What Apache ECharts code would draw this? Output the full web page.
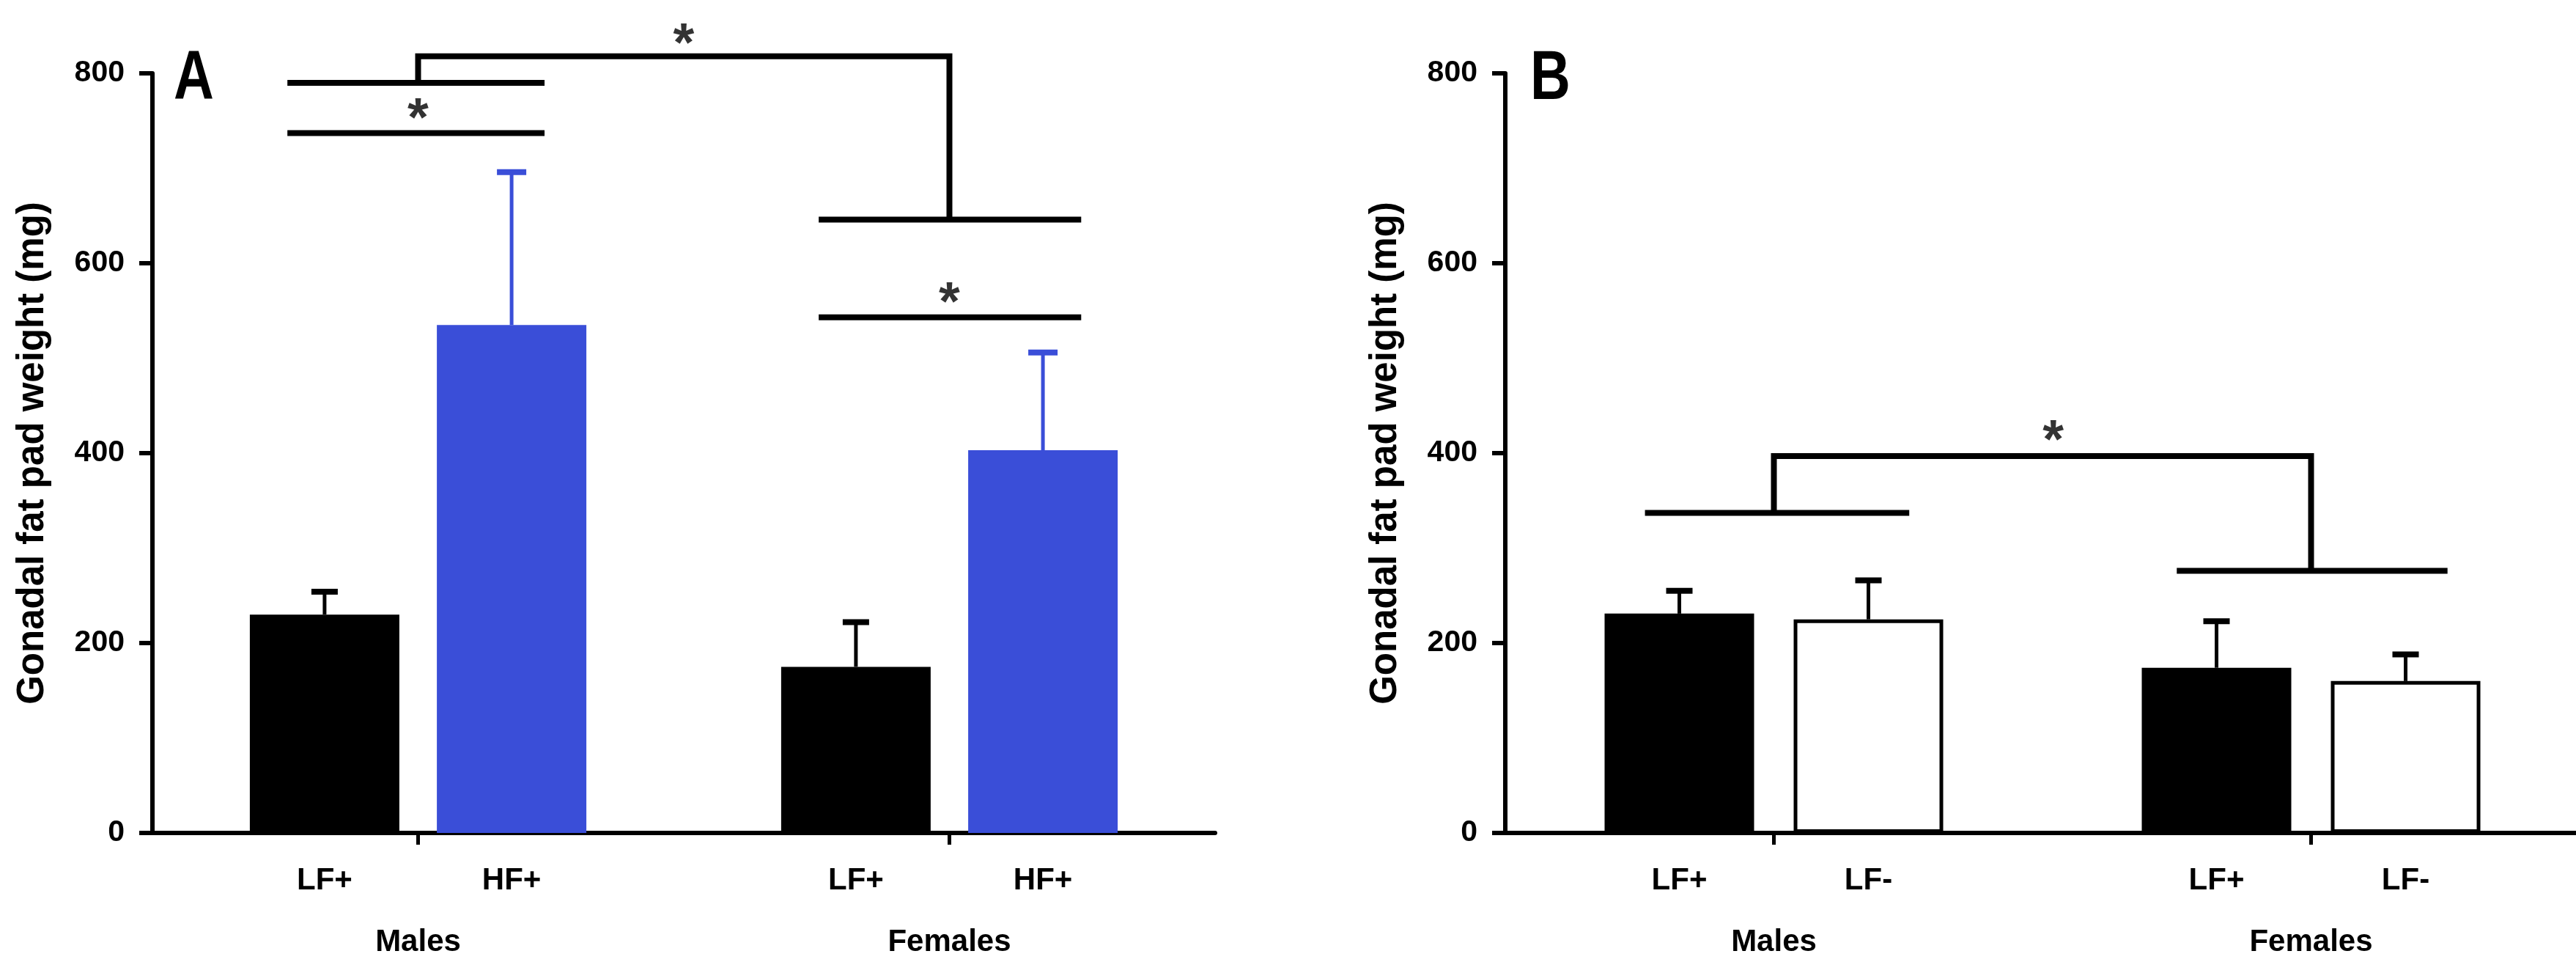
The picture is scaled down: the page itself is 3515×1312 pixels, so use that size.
<!DOCTYPE html>
<html>
<head>
<meta charset="utf-8">
<script src="https://cdn.jsdelivr.net/npm/echarts@6/dist/echarts.min.js"></script>
<style>
html, body { margin: 0; padding: 0; background: #fff; }
#main { width: 3515px; height: 1312px; }
</style>
</head>
<body>
<div id="main"></div>
<script>
var yTicks = [0, 200, 400, 600, 800];
var groups = ['Males', 'Females'];
var groupPos = [25, 75];
var barPos = [16.2, 33.8, 66.2, 83.8];

// panel A
var labelsA = ['LF+', 'HF+', 'LF+', 'HF+'];
var meanA = [230, 535, 175, 403];
var semA = [24, 161, 47, 103];
var fillA = ['#000000', '#3A4ED8', '#000000', '#3A4ED8'];

// panel B
var labelsB = ['LF+', 'LF-', 'LF+', 'LF-'];
var meanB = [231, 225, 174, 160];
var semB = [24, 41, 49, 28];
var fillB = ['#000000', '#ffffff', '#000000', '#ffffff'];

// significance brackets (x in axis units, y in mg)
var bracketsA = [
    [[12.7, 737], [36.9, 737]],
    [[12.7, 790], [36.9, 790]],
    [[25, 790], [25, 818], [75, 818], [75, 646]],
    [[62.7, 646], [87.4, 646]],
    [[62.7, 543], [87.4, 543]]
];
var starsA = [[25, 761], [50, 840], [75, 567]];
var bracketsB = [
    [[13.0, 337], [37.6, 337]],
    [[25, 337], [25, 397], [75, 397], [75, 276]],
    [[62.5, 276], [87.7, 276]]
];
var starsB = [[51, 422]];

var font = "'Liberation Sans', Arial, sans-serif";

function nearestLabel(labels, v) {
    var best = 0;
    for (var i = 1; i < barPos.length; i++) {
        if (Math.abs(barPos[i] - v) < Math.abs(barPos[best] - v)) best = i;
    }
    return labels[best];
}

function mainX(gi, labels) {
    return {
        type: 'value', gridIndex: gi, min: 0, max: 100, position: 'bottom',
        splitLine: { show: false },
        axisLine: { show: true, lineStyle: { color: '#000', width: 6 } },
        axisTick: { show: true, customValues: groupPos, length: 16, lineStyle: { color: '#000', width: 5 } },
        axisLabel: {
            show: true, customValues: barPos, margin: 44,
            fontFamily: font, fontWeight: 'bold', fontSize: 42, color: '#000',
            formatter: function(v) { return nearestLabel(labels, v); }
        }
    };
}

function groupX(gi) {
    return {
        type: 'value', gridIndex: gi, min: 0, max: 100, position: 'bottom', offset: 0,
        splitLine: { show: false },
        axisLine: { show: false },
        axisTick: { show: false },
        axisLabel: {
            show: true, customValues: groupPos, margin: 128,
            fontFamily: font, fontWeight: 'bold', fontSize: 42, color: '#000',
            formatter: function(v) { return v < 50 ? groups[0] : groups[1]; }
        }
    };
}

function yAx(gi) {
    return {
        type: 'value', gridIndex: gi, min: 0, max: 800, interval: 200,
        name: 'Gonadal fat pad weight (mg)', nameLocation: 'middle', nameGap: 138,
        nameTextStyle: { fontFamily: font, fontWeight: 'bold', fontSize: 51, color: '#000' },
        splitLine: { show: false },
        axisLine: { show: true, lineStyle: { color: '#000', width: 6 } },
        axisTick: { show: true, length: 18, lineStyle: { color: '#000', width: 6 } },
        axisLabel: { margin: 38, fontFamily: font, fontWeight: 'bold', fontSize: 41, color: '#000' }
    };
}

function barSeries(gi, means, fills) {
    return {
        type: 'bar', xAxisIndex: gi * 2, yAxisIndex: gi, barWidth: 204,
        animation: false, z: 2,
        data: means.map(function(m, i) {
            return {
                value: [barPos[i], m],
                itemStyle: {
                    color: fills[i],
                    borderColor: '#000',
                    borderWidth: fills[i] === '#ffffff' ? 5 : 0
                }
            };
        })
    };
}

function errSeries(gi, means, sems, fills) {
    return {
        type: 'custom', xAxisIndex: gi * 2, yAxisIndex: gi, animation: false, z: 3, clip: false,
        data: means.map(function(m, i) { return [barPos[i], m, m + sems[i], i]; }),
        renderItem: function(params, api) {
            var p0 = api.coord([api.value(0), api.value(1)]);
            var p1 = api.coord([api.value(0), api.value(2)]);
            var c = fills[api.value(3)] === '#3A4ED8' ? '#3A4ED8' : '#000';
            var half = c === '#000' ? 18 : 20;
            return {
                type: 'group',
                children: [
                    { type: 'line', shape: { x1: p0[0], y1: p0[1], x2: p1[0], y2: p1[1] + 3 }, style: { stroke: c, lineWidth: 5 } },
                    { type: 'line', shape: { x1: p1[0] - half, y1: p1[1], x2: p1[0] + half, y2: p1[1] }, style: { stroke: c, lineWidth: 8 } }
                ]
            };
        }
    };
}

function bracketSeries(gi, brackets) {
    return brackets.map(function(b) {
        return {
            type: 'line', xAxisIndex: gi * 2, yAxisIndex: gi, data: b, symbol: 'none',
            clip: false, animation: false, silent: true, z: 4,
            lineStyle: { color: '#000', width: 8, cap: 'butt', join: 'miter' }
        };
    });
}

function starSeries(gi, stars) {
    return {
        type: 'scatter', xAxisIndex: gi * 2, yAxisIndex: gi, data: stars, symbolSize: 1,
        itemStyle: { color: 'rgba(0,0,0,0)' }, clip: false, animation: false, z: 5,
        label: {
            show: true, position: 'inside', formatter: '*', offset: [0, 14],
            fontFamily: font, fontWeight: 'bold', fontSize: 74, color: '#000'
        }
    };
}

function panelLetter(text, x) {
    return {
        type: 'text', x: x, y: 61, scaleX: 0.8,
        style: { text: text, fontFamily: font, fontWeight: 'bold', fontSize: 95, fill: '#000', verticalAlign: 'top' }
    };
}

var chart = echarts.init(document.getElementById('main'));
var series = [
    barSeries(0, meanA, fillA), errSeries(0, meanA, semA, fillA), starSeries(0, starsA),
    barSeries(1, meanB, fillB), errSeries(1, meanB, semB, fillB), starSeries(1, starsB)
].concat(bracketSeries(0, bracketsA), bracketSeries(1, bracketsB));

chart.setOption({
    backgroundColor: '#fff',
    animation: false,
    graphic: [panelLetter('A', 237), panelLetter('B', 2088)],
    grid: [
        { left: 208, top: 100, width: 1450, height: 1036, containLabel: false, outerBoundsMode: 'none' },
        { left: 2054, top: 100, width: 1466, height: 1036, containLabel: false, outerBoundsMode: 'none' }
    ],
    xAxis: [mainX(0, labelsA), groupX(0), mainX(1, labelsB), groupX(1)],
    yAxis: [yAx(0), yAx(1)],
    series: series
});
</script>
</body>
</html>
